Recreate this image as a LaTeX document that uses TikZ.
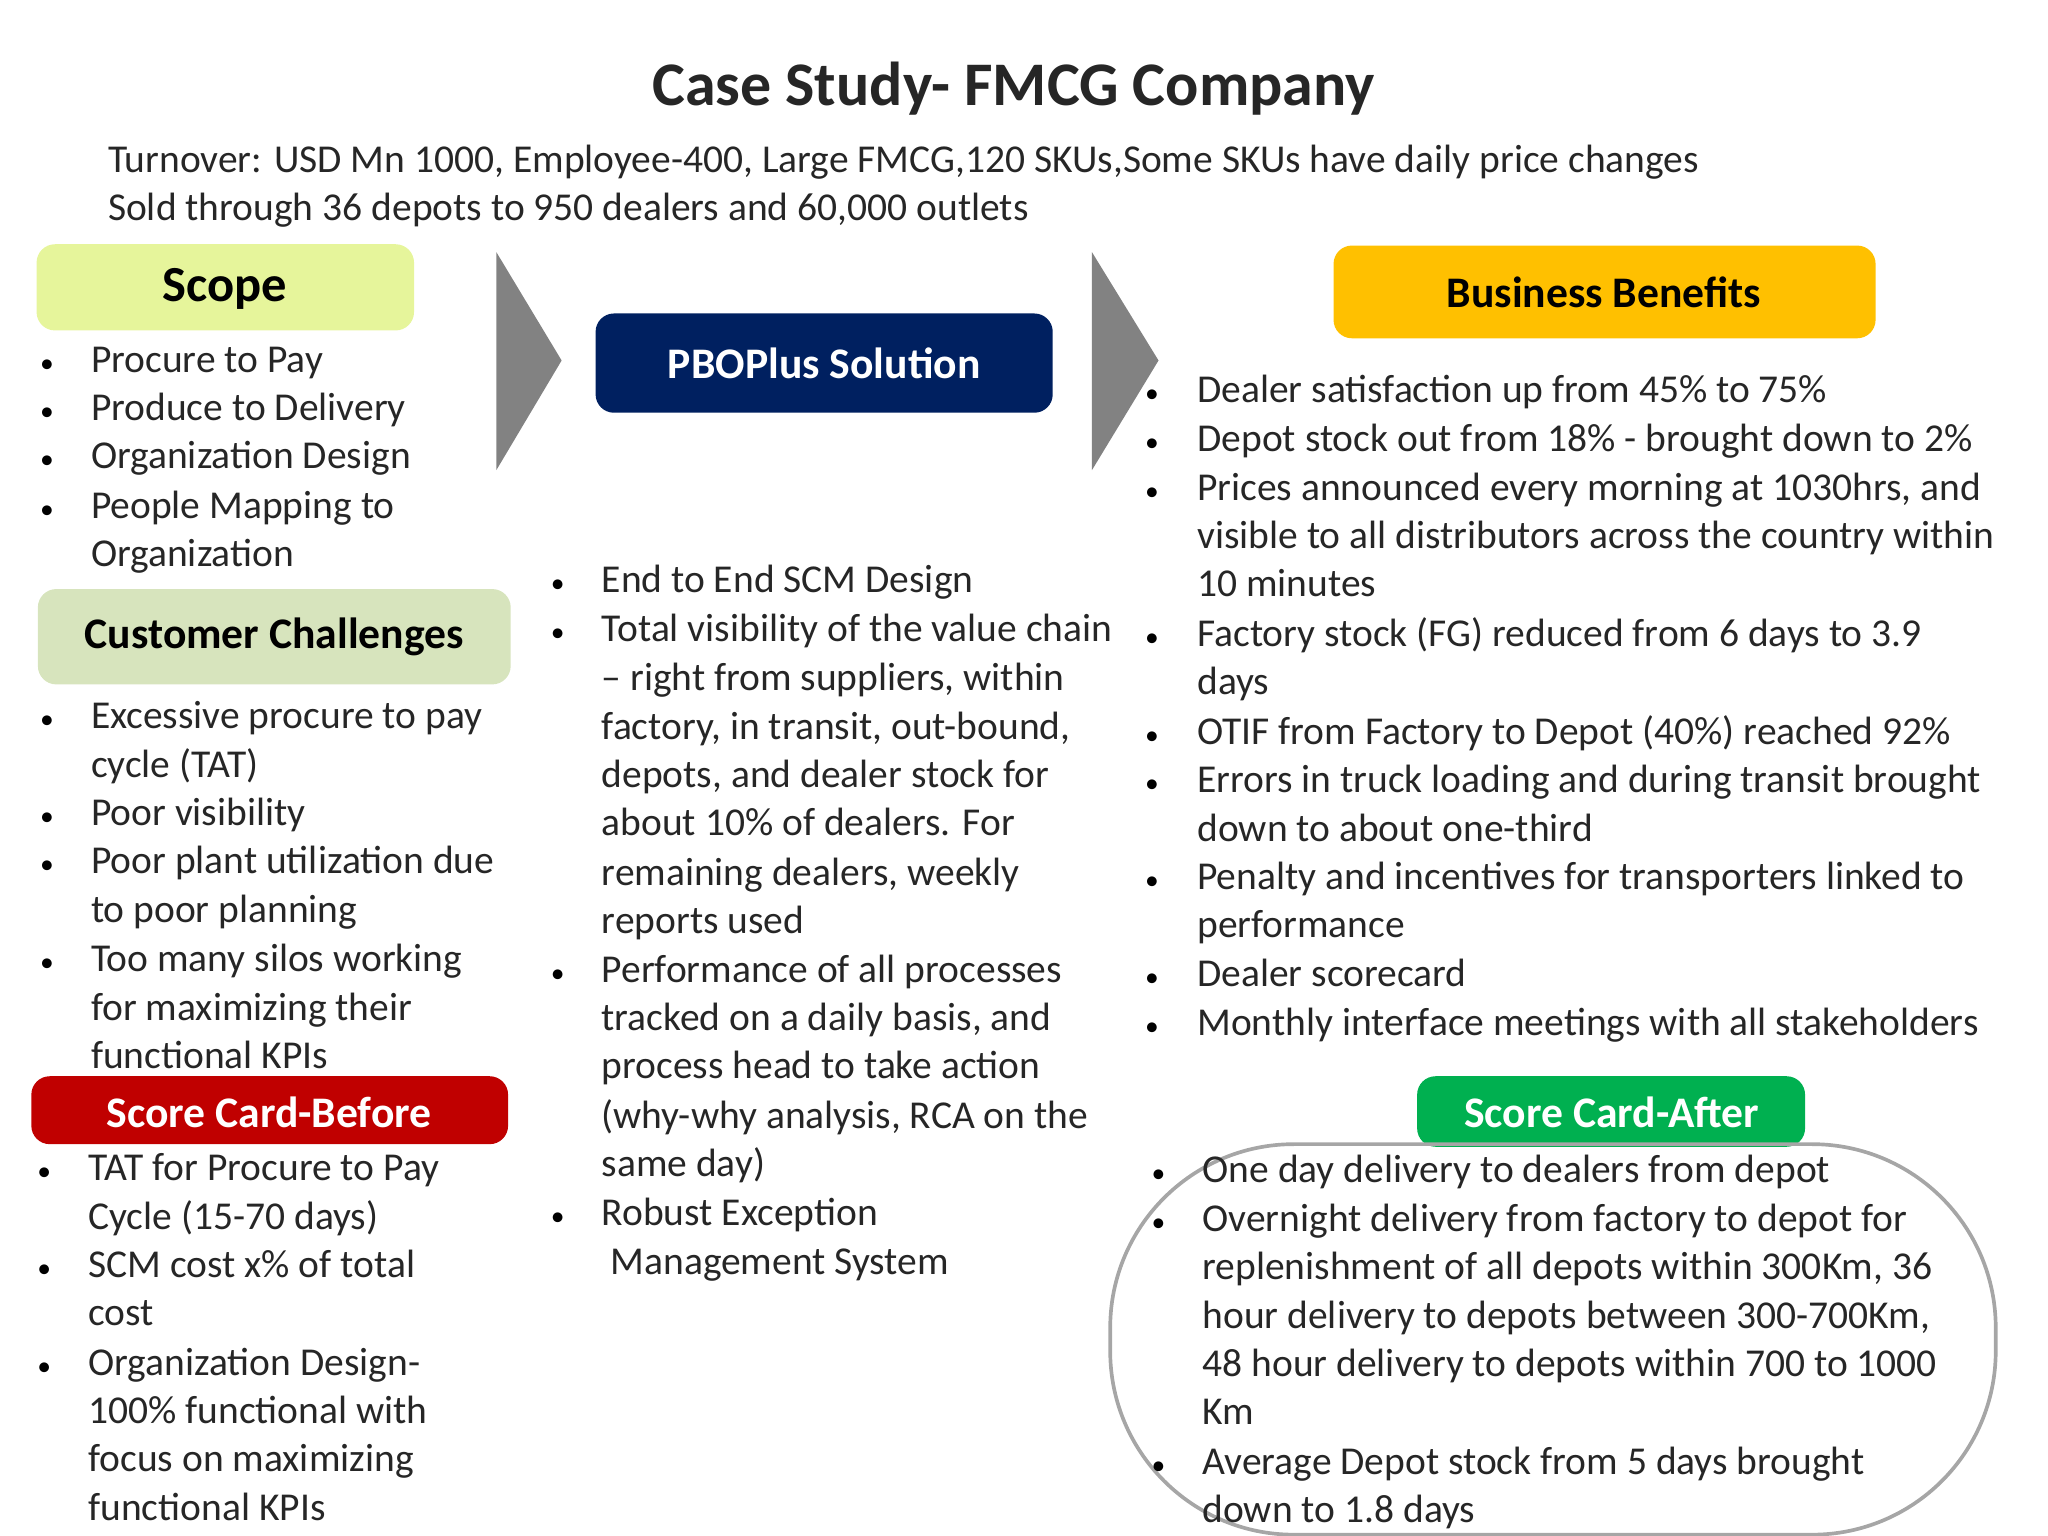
\documentclass[tikz,border=0pt]{standalone}
\usepackage{fontspec}
\setmainfont{Carlito}
\begin{document}
\begin{tikzpicture}[x=0.01cm,y=-0.01cm,
 txt/.style={anchor=base west,inner sep=0pt,font=\fontsize{8.6}{10}\selectfont,text=black!85},
 bul/.style={anchor=base west,inner sep=0pt,font=\fontsize{6}{7}\selectfont},
 hdr/.style={rounded corners=4pt,font=\bfseries\fontsize{9.5}{11}\selectfont}]
\useasboundingbox (0,0) rectangle (1568,1176);
\node[font=\bfseries\fontsize{13.5}{15}\selectfont,text=black!85] (title) at (776,68) {Case Study- FMCG Company};
\node[txt] (sub1) at (82,132) {Turnover: USD Mn 1000, Employee-400, Large FMCG,120 SKUs,Some SKUs have daily price changes};
\node[txt] (sub2) at (82,169) {Sold through 36 depots to 950 dealers and 60,000 outlets};
% header boxes
\draw[hdr,fill={rgb,255:red,230;green,245;blue,155},draw=none] (28,187) rectangle (317,253);
\node[font=\bfseries\fontsize{11}{13}\selectfont] (scope) at (172,221) {Scope};
\draw[hdr,fill={rgb,255:red,215;green,228;blue,189},draw=none] (29,451) rectangle (391,524);
\node[hdr] (cc) at (210,488) {Customer Challenges};
\draw[hdr,fill={rgb,255:red,192;green,0;blue,0},draw=none] (24,824) rectangle (389,876);
\node[hdr,text=white] (scb) at (206,852) {Score Card-Before};
\draw[hdr,fill={rgb,255:red,0;green,32;blue,96},draw=none] (456,240) rectangle (806,316);
\node[hdr,text=white] (pbo) at (631,278) {PBOPlus Solution};
\draw[hdr,fill={rgb,255:red,255;green,192;blue,0},draw=none] (1021,188) rectangle (1436,259);
\node[hdr] (bb) at (1228,224) {Business Benefits};
\draw[hdr,fill={rgb,255:red,0;green,176;blue,80},draw=none] (1085,824) rectangle (1382,878);
\node[hdr,text=white] (sca) at (1234,852) {Score Card-After};
\draw[gray!70,line width=0.8pt,rounded corners=40pt] (850,876) rectangle (1528,1175);
% chevrons
\fill[gray!60!black!70] (380,193) -- (430,276) -- (380,360) -- cycle;
\fill[gray!60!black!70] (836,193) -- (887,276) -- (836,360) -- cycle;
% scope
\foreach \y/\t [count=\i] in {276/Procure to Pay,313/Produce to Delivery,350/Organization Design,388/People Mapping to,425/Organization}
 \node[txt] (s\i) at (69,\y+9) {\t};
\foreach \y [count=\i] in {276,313,350,388} \node[bul] (sb\i) at (30,\y+9) {\textbullet};
\foreach \y/\t [count=\i] in {549/Excessive procure to pay,586/cycle (TAT),623/Poor visibility,660/Poor plant utilization due,697/to poor planning,735/Too many silos working,772/for maximizing their,809/functional KPIs}
 \node[txt] (c\i) at (69,\y+9) {\t};
\foreach \y [count=\i] in {549,623,660,735} \node[bul] (cb\i) at (30,\y+9) {\textbullet};
\foreach \y/\t [count=\i] in {895/TAT for Procure to Pay,932/Cycle (15-70 days),969/SCM cost x\% of total,1006/cost,1044/Organization Design-,1081/100\% functional with,1118/focus on maximizing,1155/functional KPIs}
 \node[txt] (b\i) at (67,\y+9) {\t};
\foreach \y [count=\i] in {895,969,1044} \node[bul] (bb\i) at (28,\y+9) {\textbullet};
% middle
\foreach \y/\t [count=\i] in {445/End to End SCM Design,482/Total visibility of the value chain,520/{– right from suppliers, within},557/{factory, in transit, out-bound,},594/{depots, and dealer stock for},631/about 10\% of dealers. For,669/{remaining dealers, weekly},706/reports used,743/Performance of all processes,780/{tracked on a daily basis, and},817/process head to take action,855/{(why-why analysis, RCA on the},892/same day),929/Robust Exception,967/{\ Management System}}
 \node[txt] (m\i) at (460,\y+9) {\t};
\foreach \y [count=\i] in {445,482,743,929} \node[bul] (mb\i) at (421,\y+9) {\textbullet};
% right
\foreach \y/\t [count=\i] in {299/Dealer satisfaction up from 45\% to 75\%,337/Depot stock out from 18\% - brought down to 2\%,374/{Prices announced every morning at 1030hrs, and},411/visible to all distributors across the country within,448/10 minutes,486/Factory stock (FG) reduced from 6 days to 3.9,523/days,561/OTIF from Factory to Depot (40\%) reached 92\%,598/Errors in truck loading and during transit brought,635/down to about one-third,672/Penalty and incentives for transporters linked to,709/performance,746/Dealer scorecard,784/Monthly interface meetings with all stakeholders}
 \node[txt] (r\i) at (916,\y+9) {\t};
\foreach \y [count=\i] in {299,337,374,486,561,598,672,746,784} \node[bul] (rb\i) at (876,\y+9) {\textbullet};
\foreach \y/\t [count=\i] in {896/One day delivery to dealers from depot,934/Overnight delivery from factory to depot for,971/{replenishment of all depots within 300Km, 36},1008/{hour delivery to depots between 300-700Km,},1045/48 hour delivery to depots within 700 to 1000,1082/Km,1120/Average Depot stock from 5 days brought,1157/down to 1.8 days}
 \node[txt] (a\i) at (920,\y+9) {\t};
\foreach \y [count=\i] in {896,934,1120} \node[bul] (ab\i) at (881,\y+9) {\textbullet};
\end{tikzpicture}
\end{document}
